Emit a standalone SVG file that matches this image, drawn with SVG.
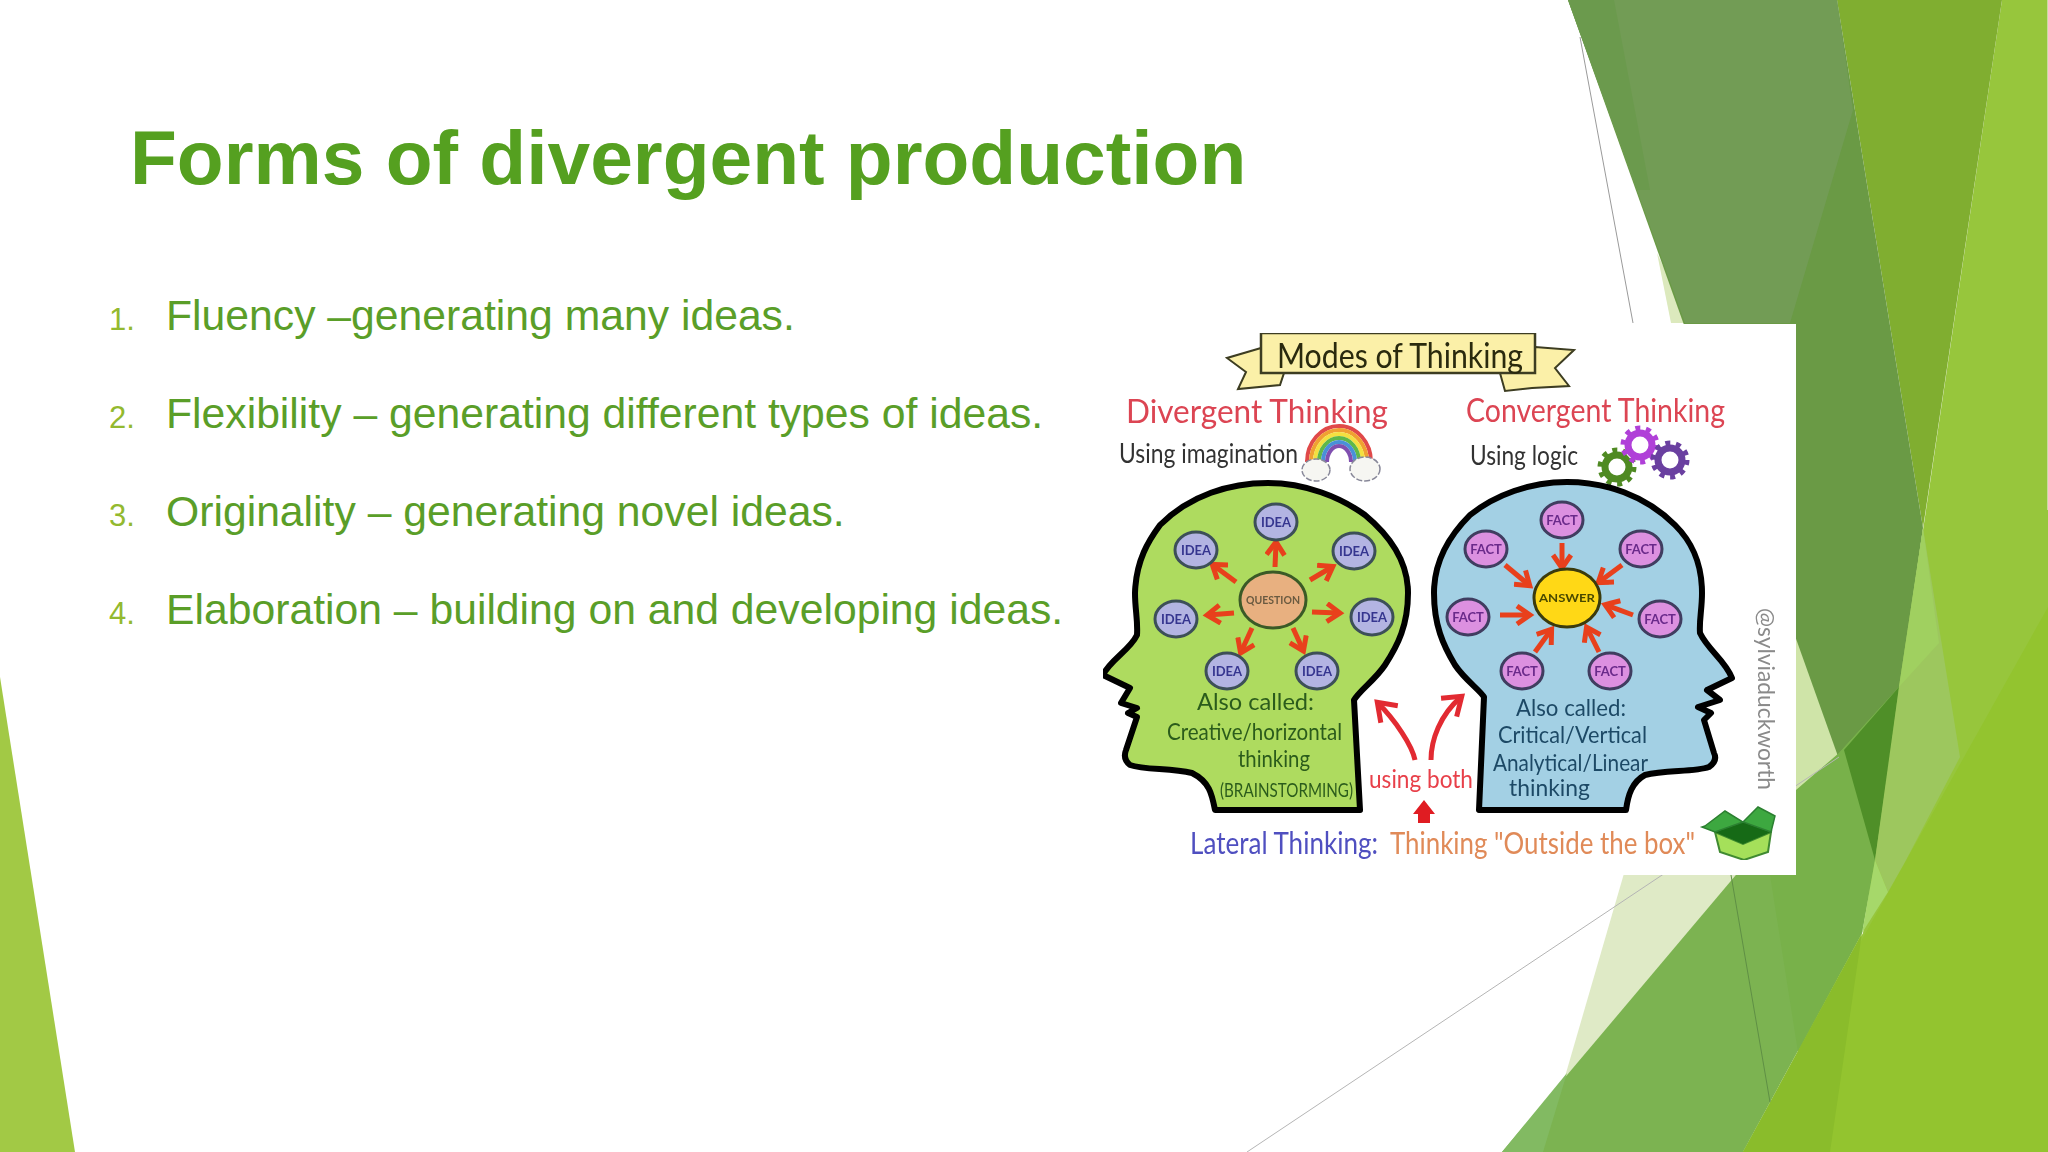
<svg xmlns="http://www.w3.org/2000/svg" width="2048" height="1152" viewBox="0 0 2048 1152">
<defs>
<style>
.t{font-family:"Liberation Sans",Arial,sans-serif}
.n{font-size:31px;fill:#93b92f}
.b{font-size:42.7px;fill:#5a9e28}
.h{font-family:"Lato","Noto Sans",sans-serif}
.r{fill:#dc4452;font-size:32px}
.k{fill:#333;font-size:27px}
.g{fill:#2c5c1c;font-size:24px}
.u{fill:#1e4a66;font-size:23px}
.idea{fill:#b3b4e2;stroke:#3c5058;stroke-width:3}
.fact{fill:#dc90e0;stroke:#403c60;stroke-width:3}
.it{font-size:13px;fill:#35358f;text-anchor:middle;font-weight:700}
.ft{font-size:13px;fill:#6a2a8a;text-anchor:middle;font-weight:700}
.head{stroke:#000;stroke-width:6;stroke-linejoin:round}
.ar{fill:none;stroke:#e8401c;stroke-width:5;marker-end:url(#ah)}
.ar2{fill:none;stroke:#e22c30;stroke-width:5;marker-end:url(#ah2)}
.rb{fill:none;stroke-width:4}
.gear{fill:none;stroke-width:7}
.teeth{fill:none;stroke-width:5;stroke-dasharray:5 5.7}
</style>
<marker id="ah" markerUnits="userSpaceOnUse" markerWidth="22" markerHeight="22" refX="16" refY="11" orient="auto"><path d="M4 2L17 11L4 20" fill="none" stroke="#e8401c" stroke-width="5"/></marker>
<marker id="ah2" markerUnits="userSpaceOnUse" markerWidth="30" markerHeight="30" refX="22" refY="15" orient="auto"><path d="M6 3L23 15L6 27" fill="none" stroke="#e22c30" stroke-width="5"/></marker>
<filter id="soft" x="0" y="0" width="1" height="1"><feGaussianBlur stdDeviation="0.7"/></filter>
</defs>
<rect width="2048" height="1152" fill="#fff"/>
<g id="background">
<polygon points="0,677 75,1152 0,1152" fill="#a2c945"/>
<polygon points="1657,253 1671,323 1690,323" fill="#dce9bd"/>
<polygon points="1625,870 1564,1080 1760,870" fill="#dfeac6"/>
<polygon points="1790,620 1845,760 1790,815" fill="#cfe4a8"/>
<polygon points="2002,0 2048,0 2048,1152 1743,1152 1863,933" fill="#97c63c"/>
<rect x="2047" y="0" width="1" height="510" fill="#c8dca0"/>
<polygon points="1837,0 2002,0 1923,528" fill="#80ae30"/>
<polygon points="1568,0 1837,0 1923,528 1875,860" fill="#6a9a45"/>
<polygon points="1568,0 1837,0 1853,110 1790,323 1685,323" fill="#729c55"/>
<polygon points="1568,0 1614,0 1650,190 1637,190" fill="#6b9a4d"/>
<polygon points="1502,1152 1839,753 1899,687 1891,750 1875,860 1862,933 1743,1152" fill="#7cb351"/>
<polygon points="1502,1152 1567,1073 1543,1152" fill="#82ba62"/>
<polygon points="1770,875 1796,875 1796,790 1839,753 1899,687 1891,750 1875,860 1862,933 1798,1052" fill="#78b14a"/>
<polygon points="1844,750 1899,687 1891,750 1875,860" fill="#4f8f28"/>
<polygon points="1923,528 1960,757 1904,864 1888,892 1875,860 1899,687" fill="#9dc75e"/>
<polygon points="1923,528 1939,643 1899,687" fill="#a0d060"/>
<polygon points="1875,860 1888,892 1862,933" fill="#a6d86a"/>
<polygon points="2048,607 2048,1152 1743,1152" fill="#93c42f"/>
<polygon points="1743,1152 1862,933 1830,1152" fill="#8abc2b"/>
<path d="M1580 37L1633 323" stroke="#9a9a9a" stroke-width="1" fill="none"/>
<path d="M1731 875L1770 1102" stroke="#5f8f45" stroke-width="1" fill="none"/>
<path d="M1247 1152L1839 757" stroke="#b5b5b5" stroke-width="1" fill="none"/>
</g>
<g id="slide-text" class="t">
<text x="130" y="184" font-size="76.7" font-weight="700" fill="#55a020">Forms of divergent production</text>
<text class="n" x="109" y="330">1.</text><text class="b" x="166" y="330">Fluency –generating many ideas.</text>
<text class="n" x="109" y="428">2.</text><text class="b" x="166" y="428">Flexibility – generating different types of ideas.</text>
<text class="n" x="109" y="526">3.</text><text class="b" x="166" y="526">Originality – generating novel ideas.</text>
<text class="n" x="109" y="624">4.</text><text class="b" x="166" y="624">Elaboration – building on and developing ideas.</text>
</g>
<rect id="picture-ground" x="1097" y="324" width="699" height="551" fill="#fff"/>
<g id="picture" filter="url(#soft)" class="h">
<g id="banner">
<path d="M1261 348L1227 358L1246 372L1238 389L1280 385L1284 373L1261 373Z" fill="#fbf0a8" stroke="#3c3c20" stroke-width="2"/>
<path d="M1535 347L1574 350L1555 368L1569 386L1532 388L1505 391L1500 373L1535 373Z" fill="#fbf0a8" stroke="#3c3c20" stroke-width="2"/>
<rect x="1261" y="333" width="274" height="40" fill="#fbf0a8" stroke="#3c3c20" stroke-width="2.5"/>
<text x="1277" y="368" font-size="34" fill="#2a2a10" textLength="246" lengthAdjust="spacingAndGlyphs">Modes of Thinking</text>
</g>
<text class="r" x="1126" y="423" textLength="262" lengthAdjust="spacingAndGlyphs">Divergent Thinking</text>
<text class="r" x="1466" y="422" textLength="259" lengthAdjust="spacingAndGlyphs">Convergent Thinking</text>
<text class="k" x="1119" y="463" textLength="179" lengthAdjust="spacingAndGlyphs">Using imagination</text>
<text class="k" x="1470" y="465" textLength="108" lengthAdjust="spacingAndGlyphs">Using logic</text>
<g id="rainbow">
<path class="rb" stroke="#e04848" d="M1307 460V462A32 36 0 0 1 1371 462V460"/>
<path class="rb" stroke="#f0a030" d="M1311 460V462A28 32 0 0 1 1367 462V460"/>
<path class="rb" stroke="#f4e040" d="M1315 460V462A24 28 0 0 1 1363 462V460"/>
<path class="rb" stroke="#60b848" d="M1319 460V462A20 24 0 0 1 1359 462V460"/>
<path class="rb" stroke="#4a90d8" d="M1323 460V462A16 20 0 0 1 1355 462V460"/>
<path class="rb" stroke="#8050b0" d="M1327 460V462A12 16 0 0 1 1351 462V460"/>
<ellipse cx="1316" cy="470" rx="14" ry="11" fill="#f6f6f2" stroke="#889" stroke-width="1.5" stroke-dasharray="6 2"/>
<ellipse cx="1365" cy="469" rx="15" ry="12" fill="#f6f6f2" stroke="#889" stroke-width="1.5" stroke-dasharray="6 2"/>
</g>
<g id="gears">
<circle class="gear" cx="1617" cy="467" r="12" stroke="#4f8a24"/><circle class="teeth" cx="1617" cy="467" r="17" stroke="#4f8a24"/>
<circle class="gear" cx="1640" cy="445" r="12" stroke="#b040d8"/><circle class="teeth" cx="1640" cy="445" r="17" stroke="#b040d8"/>
<circle class="gear" cx="1670" cy="460" r="12" stroke="#6a3fa0"/><circle class="teeth" cx="1670" cy="460" r="17" stroke="#6a3fa0"/>
</g>
<g id="head-divergent">
<path class="head" fill="#aedb5e" d="M1360 810L1215 810C1212 795 1210 782 1192 773C1170 768 1145 770 1130 765C1124 760 1124 755 1126 750L1137 717L1128 713L1137 708L1121 703L1130 688L1103 675C1110 660 1130 650 1137 635C1138 620 1135 610 1135 593C1136 560 1149 540 1160 525C1190 495 1230 483 1268 483C1305 483 1340 497 1365 515C1395 540 1408 565 1408 593C1408 625 1398 645 1385 665C1375 680 1360 690 1354 700Z"/>
</g>
<g id="head-convergent">
<path class="head" fill="#a3d0e4" d="M1479 810L1626 810C1628 795 1632 782 1645 775C1665 770 1695 772 1709 767C1716 762 1716 757 1714 753L1704 720L1711 713L1698 707L1720 700L1707 690L1732 678C1725 660 1708 650 1700 633C1699 620 1702 610 1702 593C1702 560 1690 540 1675 525C1645 495 1605 482 1567 482C1530 482 1495 495 1470 515C1445 540 1434 565 1434 593C1434 625 1443 645 1455 665C1465 680 1480 690 1484 697Z"/>
</g>
<g id="connectors">
<path class="ar" d="M1275 567L1276 543"/><path class="ar" d="M1236 582L1213 565"/><path class="ar" d="M1310 580L1332 567"/><path class="ar" d="M1234 613L1208 615"/><path class="ar" d="M1312 612L1339 613"/><path class="ar" d="M1252 628L1241 652"/><path class="ar" d="M1293 628L1303 650"/>
<path class="ar" d="M1562 543L1562 567"/><path class="ar" d="M1505 565L1529 585"/><path class="ar" d="M1622 565L1599 582"/><path class="ar" d="M1500 615L1529 615"/><path class="ar" d="M1633 615L1606 605"/><path class="ar" d="M1535 652L1551 630"/><path class="ar" d="M1599 652L1587 628"/>
<path class="ar2" d="M1415 760C1412 745 1395 720 1378 703"/><path class="ar2" d="M1431 760C1431 740 1440 715 1461 697"/>
<path d="M1424 800L1435 814H1430V823H1418V814H1413Z" fill="#e01c24"/>
</g>
<g id="question"><ellipse cx="1273" cy="600" rx="33" ry="28" fill="#e8b080" stroke="#3a5a28" stroke-width="3"/><text x="1273" y="604" font-size="11" fill="#6a5a40" text-anchor="middle" font-weight="700" textLength="54" lengthAdjust="spacingAndGlyphs">QUESTION</text></g>
<g id="idea-1"><ellipse class="idea" cx="1276" cy="522" rx="21" ry="18"/><text class="it" x="1276" y="527">IDEA</text></g>
<g id="idea-2"><ellipse class="idea" cx="1196" cy="550" rx="21" ry="18"/><text class="it" x="1196" y="555">IDEA</text></g>
<g id="idea-3"><ellipse class="idea" cx="1354" cy="551" rx="21" ry="18"/><text class="it" x="1354" y="556">IDEA</text></g>
<g id="idea-4"><ellipse class="idea" cx="1176" cy="619" rx="21" ry="18"/><text class="it" x="1176" y="624">IDEA</text></g>
<g id="idea-5"><ellipse class="idea" cx="1372" cy="617" rx="21" ry="18"/><text class="it" x="1372" y="622">IDEA</text></g>
<g id="idea-6"><ellipse class="idea" cx="1227" cy="671" rx="21" ry="18"/><text class="it" x="1227" y="676">IDEA</text></g>
<g id="idea-7"><ellipse class="idea" cx="1317" cy="671" rx="21" ry="18"/><text class="it" x="1317" y="676">IDEA</text></g>
<g id="answer"><ellipse cx="1567" cy="598" rx="33" ry="29" fill="#ffd815" stroke="#3a3a10" stroke-width="3"/><text x="1567" y="602" font-size="12" fill="#4a4a00" text-anchor="middle" font-weight="700" textLength="56" lengthAdjust="spacingAndGlyphs">ANSWER</text></g>
<g id="fact-1"><ellipse class="fact" cx="1562" cy="520" rx="21" ry="18"/><text class="ft" x="1562" y="525">FACT</text></g>
<g id="fact-2"><ellipse class="fact" cx="1486" cy="549" rx="21" ry="18"/><text class="ft" x="1486" y="554">FACT</text></g>
<g id="fact-3"><ellipse class="fact" cx="1641" cy="549" rx="21" ry="18"/><text class="ft" x="1641" y="554">FACT</text></g>
<g id="fact-4"><ellipse class="fact" cx="1468" cy="617" rx="21" ry="18"/><text class="ft" x="1468" y="622">FACT</text></g>
<g id="fact-5"><ellipse class="fact" cx="1660" cy="619" rx="21" ry="18"/><text class="ft" x="1660" y="624">FACT</text></g>
<g id="fact-6"><ellipse class="fact" cx="1522" cy="671" rx="21" ry="18"/><text class="ft" x="1522" y="676">FACT</text></g>
<g id="fact-7"><ellipse class="fact" cx="1610" cy="671" rx="21" ry="18"/><text class="ft" x="1610" y="676">FACT</text></g>
<text class="g" x="1197" y="710" textLength="117" lengthAdjust="spacingAndGlyphs">Also called:</text>
<text class="g" x="1167" y="740" textLength="175" lengthAdjust="spacingAndGlyphs">Creative/horizontal</text>
<text class="g" x="1238" y="767" textLength="72" lengthAdjust="spacingAndGlyphs">thinking</text>
<text class="g" x="1220" y="797" textLength="133" lengthAdjust="spacingAndGlyphs" style="font-size:19px">(BRAINSTORMING)</text>
<text class="u" x="1516" y="716" textLength="110" lengthAdjust="spacingAndGlyphs">Also called:</text>
<text class="u" x="1498" y="743" textLength="149" lengthAdjust="spacingAndGlyphs">Critical/Vertical</text>
<text class="u" x="1493" y="771" textLength="155" lengthAdjust="spacingAndGlyphs">Analytical/Linear</text>
<text class="u" x="1509" y="796" textLength="81" lengthAdjust="spacingAndGlyphs">thinking</text>
<text x="1369" y="788" font-size="25" fill="#e8404a" textLength="104" lengthAdjust="spacingAndGlyphs">using both</text>
<text x="1190" y="854" font-size="30" fill="#5050c0" textLength="188" lengthAdjust="spacingAndGlyphs">Lateral Thinking:</text>
<text x="1390" y="854" font-size="30" fill="#e08a58" textLength="305" lengthAdjust="spacingAndGlyphs">Thinking "Outside the box"</text>
<text transform="translate(1758 608) rotate(90)" font-size="24" fill="#8a8a8a" textLength="182" lengthAdjust="spacingAndGlyphs">@sylviaduckworth</text>
<g id="box">
<path d="M1715 832L1743 844L1771 832L1768 852L1744 860L1720 852Z" fill="#a5e05a" stroke="#3f8a30" stroke-width="2"/>
<path d="M1715 832L1743 822L1771 832L1743 844Z" fill="#156a14"/>
<path d="M1705 826L1725 811L1743 822L1715 832L1702 827ZM1743 822L1758 807L1775 816L1771 832Z" fill="#3ea840" stroke="#2c8030" stroke-width="1.5"/>
</g>
</g>
</svg>
